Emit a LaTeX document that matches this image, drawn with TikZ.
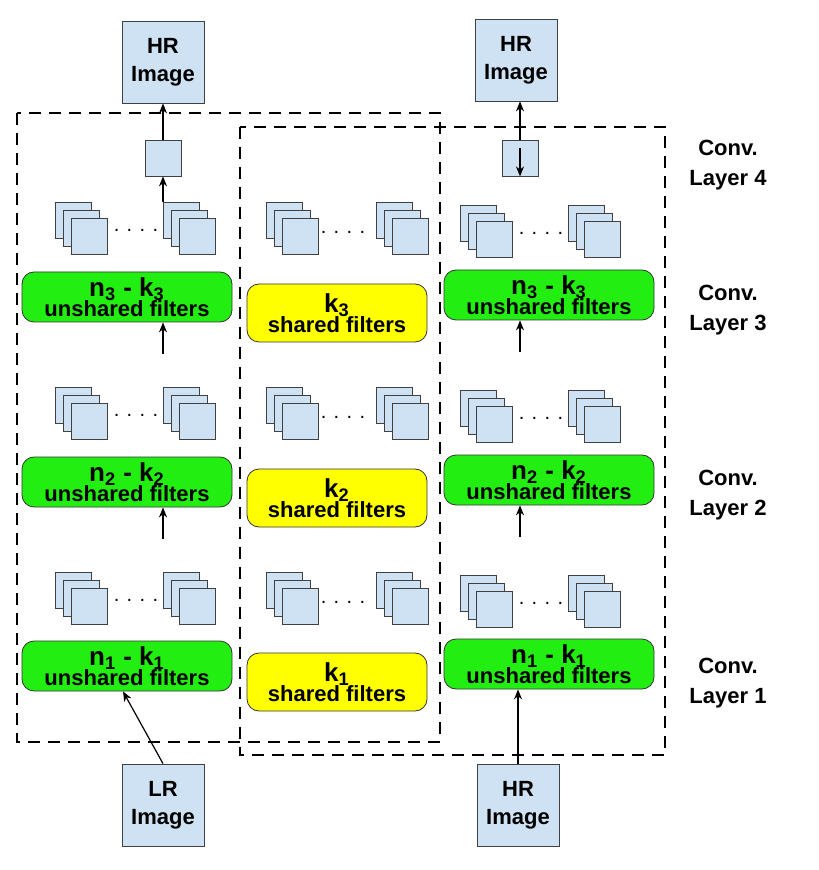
\documentclass[tikz,border=0pt]{standalone}
\usepackage{fontspec}
\setmainfont{Liberation Sans}
\usetikzlibrary{arrows.meta,positioning}
\definecolor{imgblue}{HTML}{CFE2F3}
\definecolor{unshared}{HTML}{22EE11}
\definecolor{shared}{HTML}{FFFF00}
\tikzset{
  image/.style={
    draw=black!75,
    fill=imgblue,
    minimum width=41pt,
    minimum height=41pt,
    align=center,
    font=\bfseries\fontsize{11}{14}\selectfont
  },
  fmap/.style={
    draw=black!75,
    fill=imgblue,
    minimum size=18pt,
    inner sep=0pt
  },
  unsh/.style={
    draw=black!80,
    fill=unshared,
    rounded corners=6pt,
    minimum width=105pt,
    minimum height=25pt,
    inner sep=0.5pt,
    align=center,
    font=\bfseries\fontsize{13}{13}\selectfont
  },
  sh/.style={
    unsh,
    fill=shared,
    minimum width=90pt,
    minimum height=29pt
  },
  group/.style={
    thick,
    dash pattern=on 6pt off 4pt
  },
  flow/.style={
    -{Stealth[length=5pt,width=4pt]},
    semithick
  },
  layer/.style={
    align=center,
    font=\bfseries\fontsize{11}{15}\selectfont
  }
}
% three stacked feature maps, back corner at (#2,#3)
\newcommand\fstack[3]{%
  \node[fmap,anchor=north west] (#1a) at (#2,#3) {};
  \node[fmap,anchor=north west] (#1b) at (#2+8,#3+8) {};
  \node[fmap,anchor=north west] (#1c) at (#2+16,#3+16) {};
}
\newcommand\filtfont{\fontsize{11}{12}\selectfont}
\begin{document}
\begin{tikzpicture}[x=0.5pt,y=-0.5pt]
\useasboundingbox (0,0) rectangle (818,870);
% dashed groups
\draw[group] (17,113) rectangle (440,742);
\draw[group] (240,127) rectangle (665,755);
% feature maps
\foreach \r/\y in {1/572,2/387,3/202} {
  \fstack{sl\r}{55}{\y}
  \fstack{tl\r}{163}{\y}
  \node (dl\r) at (136,\y+28) {. . . .};
  \fstack{sm\r}{266}{\y}
  \fstack{tm\r}{376}{\y}
  \node (dm\r) at (343,\y+30) {. . . .};
  \fstack{sr\r}{460}{\y+3}
  \fstack{tr\r}{568}{\y+3}
  \node (dr\r) at (541,\y+31) {. . . .};
}
% filter blocks
\foreach \r/\y in {1/666,2/482,3/297} {
  \node[unsh] (gl\r) at (127,\y) {n\textsubscript{\r} - k\textsubscript{\r}\\[-3pt]{\filtfont unshared filters}};
  \node[sh] (ym\r) at (337,\y+16) {k\textsubscript{\r}\\[-3pt]{\filtfont shared filters}};
  \node[unsh] (gr\r) at (549,\y-2) {n\textsubscript{\r} - k\textsubscript{\r}\\[-3pt]{\filtfont unshared filters}};
}
% images
\node[image] (hrl) at (163,62) {HR\\Image};
\node[image] (hrr) at (516,60) {HR\\Image};
\node[image] (lr) at (163,805) {LR\\Image};
\node[image] (hrb) at (518,805) {HR\\Image};
\node[fmap] (outl) at (163,158) {};
\node[fmap] (outr) at (520,158) {};
% layer labels
\node[layer] (c4) at (728,165) {Conv.\\Layer 4};
\node[layer] (c3) at (728,310) {Conv.\\Layer 3};
\node[layer] (c2) at (728,495) {Conv.\\Layer 2};
\node[layer] (c1) at (728,683) {Conv.\\Layer 1};
% connections
\draw[flow] (lr.north) -- ([xshift=-2pt]gl1.south);
\draw[flow] (hrb.north) -- (hrb.north |- gr1.south);
\draw[flow] ([yshift=-16pt]gl2.south -| outl) -- (gl2.south -| outl);
\draw[flow] ([yshift=-16pt]gl3.south -| outl) -- (gl3.south -| outl);
\draw[flow] (tl3a.north west) -- (outl.south);
\draw[flow] (outl.north) -- (outl.north |- hrl.south);
\draw[flow] ([yshift=-16pt]gr2.south -| outr) -- (gr2.south -| outr);
\draw[flow] ([yshift=-16pt]gr3.south -| outr) -- (gr3.south -| outr);
\draw[flow] ([yshift=14pt]outr.south) -- (outr.south);
\draw[flow] (outr.north) -- (outr.north |- hrr.south);
\end{tikzpicture}
\end{document}
